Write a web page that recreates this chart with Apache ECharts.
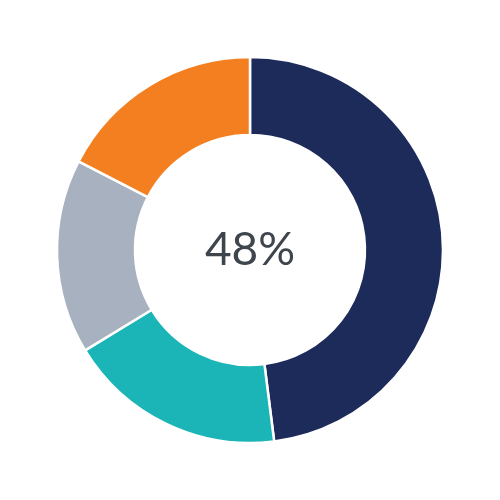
<!DOCTYPE html>
<html><head><meta charset="utf-8">
<script src="https://cdn.jsdelivr.net/npm/echarts@6/dist/echarts.min.js"></script>
<style>html,body{margin:0;padding:0;background:#fff}#c{width:500px;height:500px}</style>
</head><body><div id="c"></div>
<script>
var categories = ['A', 'B', 'C', 'D'];
var values = [48, 18.3, 16.3, 17.4];
var colors = ['#1c2b5a', '#1bb5b7', '#a8b1bf', '#f47f20'];
var centerLabel = '48%';
var chart = echarts.init(document.getElementById('c'));
chart.setOption({
  animation: false,
  graphic: [{
    type: 'text', left: 'center', top: 'middle',
    style: { text: centerLabel, fontSize: 46, fontFamily: 'Lato', fontWeight: 'normal', fill: '#3e454c', align: 'center', verticalAlign: 'middle' }
  }],
  series: [{
    type: 'pie',
    center: [250, 250],
    radius: [115, 193],
    startAngle: 90,
    clockwise: true,
    label: { show: false },
    labelLine: { show: false },
    emphasis: { disabled: true },
    itemStyle: { borderColor: '#fff', borderWidth: 2.5 },
    data: categories.map(function (c, i) { return { name: c, value: values[i], itemStyle: { color: colors[i] } }; })
  }]
});
</script></body></html>
